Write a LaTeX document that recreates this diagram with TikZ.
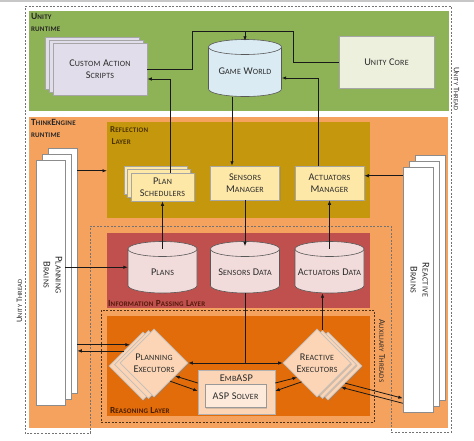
\documentclass[tikz,border=0pt]{standalone}
\usepackage{fontspec}
\setmainfont{Carlito}[LetterSpace=3]
\usepackage{relsize}
\usetikzlibrary{shapes.geometric,arrows.meta,calc,shadows}
\definecolor{ugreen}{RGB}{142,178,86}
\definecolor{teor}{RGB}{245,162,95}
\definecolor{reflc}{RGB}{196,151,12}
\definecolor{ipred}{RGB}{192,80,77}
\definecolor{reaso}{RGB}{227,108,10}
\definecolor{lav}{RGB}{226,221,234}
\definecolor{ucfill}{RGB}{236,240,221}
\definecolor{gwfill}{RGB}{218,235,243}
\definecolor{mgr}{RGB}{253,232,168}
\definecolor{cylp}{RGB}{242,220,219}
\definecolor{peach}{RGB}{251,213,181}
\definecolor{peachl}{RGB}{253,234,218}
\definecolor{txt}{RGB}{42,42,42}
\definecolor{reflt}{RGB}{75,50,0}
\definecolor{ipt}{RGB}{85,25,12}
\definecolor{rst}{RGB}{70,30,0}
\newcommand\fsc[2]{#1\textscale{0.78}{#2}}
% cylinder: cx, y top ellipse centre, y bottom ellipse centre, half width, fill
\newcommand\cylshape[5]{%
  \filldraw[cylline, fill=#5] (#1-#4,#2) -- (#1-#4,#3) arc[start angle=180, end angle=360, x radius=#4pt, y radius=7.5pt] -- (#1+#4,#2) -- cycle;
  \filldraw[cylline, fill=#5] (#1,#2) ellipse[x radius=#4pt, y radius=7.5pt];}
\begin{document}
\begin{tikzpicture}[x=1pt,y=-1pt,
  every node/.style={text=txt, font=\fontsize{10.3}{12}\selectfont},
  region/.style={anchor=north west, inner sep=0pt, outer sep=0pt},
  ttl/.style={align=left, inner sep=0pt, font=\bfseries\fontsize{9.5}{12}\selectfont, text=black!85},
  shd/.style={drop shadow={shadow xshift=1.2pt, shadow yshift=-1.2pt, opacity=0.3}},
  box/.style={draw=black!35, line width=0.5pt, align=center, inner sep=1pt, shd},
  layer/.style={draw=black!35, line width=0.5pt, shd},
  brain/.style={rectangle, fill=white, draw=black!45, line width=0.5pt, minimum width=29pt, minimum height=245pt, inner sep=0pt, shd},
  dia/.style={diamond, aspect=1, minimum width=68pt, minimum height=68pt, inner sep=0pt, fill=peach, draw=black!25, line width=0.6pt, align=center, shd},
  cyl/.style={inner sep=0pt, minimum width=69pt, minimum height=51.5pt},
  cylline/.style={draw=black!65, line width=0.6pt},
  conn/.style={draw=black!90, line width=0.8pt},
  arr/.style={conn, -{Latex[length=4.5pt,width=3.5pt]}},
  udash/.style={draw=black!55, line width=0.6pt, dash pattern=on 2pt off 1.5pt},
  adash/.style={draw=black!60!brown, line width=0.6pt, dash pattern=on 2pt off 1.5pt},
]
\useasboundingbox (0,0) rectangle (474,440);
\fill[black!22] (0,0) rectangle (474,2);

% regions
\node[region, fill=ugreen, minimum width=420pt, minimum height=100pt] (unityrt) at (29,11) {};
\node[region, fill=teor, minimum width=419pt, minimum height=311pt] (te) at (29,117) {};
\node[region, fill=reflc, minimum width=263pt, minimum height=96pt] (refl) at (107,122) {};
\node[region, fill=ipred, minimum width=263pt, minimum height=75pt] (ipl) at (107,233) {};
\node[region, fill=reaso, minimum width=263pt, minimum height=100pt] (rsl) at (107,316) {};

% thread outlines
\draw[udash] (25,6) -- (451,6) -- (451,432) -- (391,432) -- (391,226) -- (90,226) -- (90,433) -- (25,433) -- cycle;
\draw[adash] (101,310) rectangle (374,422);

% region labels
\node[ttl, anchor=north west] (unitylbl) at (31,13) {\fsc{U}{NITY}\\\fsc{}{RUNTIME}};
\node[ttl, anchor=north west] (telbl) at (31,119.5) {\fsc{T}{HINK}\fsc{E}{NGINE}\\\fsc{}{RUNTIME}};
\node[ttl, anchor=north west, text=reflt, font=\bfseries\fontsize{9}{12}\selectfont] (refllbl) at (110,126.5) {\fsc{R}{EFLECTION}\\\,\fsc{L}{AYER}};
\node[ttl, anchor=base west, text=ipt, font=\bfseries\fontsize{9.3}{11}\selectfont] (ipllbl) at (108,306) {\fsc{I}{NFORMATION} \fsc{P}{ASSING} \fsc{L}{AYER}};
\node[ttl, anchor=base west, text=rst, font=\bfseries\fontsize{9.3}{11}\selectfont] (rsllbl) at (110,413.5) {\fsc{R}{EASONING} \fsc{L}{AYER}};
\node[rotate=-90, inner sep=0pt, font=\fontsize{8.3}{9}\selectfont] (utr) at (456.5,89) {\fsc{U}{NITY} \fsc{T}{HREAD}};
\node[rotate=90, inner sep=0pt, font=\fontsize{8.3}{9}\selectfont] (utl) at (19.5,301) {\fsc{U}{NITY} \fsc{T}{HREAD}};
\node[rotate=-90, inner sep=0pt, font=\fontsize{9}{10}\selectfont] (aux) at (382,351) {\fsc{A}{UXILIARY} \fsc{T}{HREADS}};

% unity runtime
\filldraw[layer, fill=lav] (45,37) rectangle ++(94,52);
\filldraw[layer, fill=lav] (49,40) rectangle ++(94,52);
\node[box, fill=lav, minimum width=94pt, minimum height=52pt] (cas) at (100,69) {\fsc{C}{USTOM} \fsc{A}{CTION}\\\fsc{S}{CRIPTS}};
\cylshape{245}{47}{89}{36.5}{gwfill}
\node[cyl, minimum width=73pt, minimum height=57pt] (gw) at (245,68) {};
\node (gwt) at (245,71.5) {\fsc{G}{AME} \fsc{W}{ORLD}};
\node[box, fill=ucfill, minimum width=95pt, minimum height=52pt] (uc) at (386.5,62) {\fsc{U}{NITY} \fsc{C}{ORE}};

% reflection layer
\filldraw[layer, fill=mgr] (124,166) rectangle ++(63,28);
\filldraw[layer, fill=mgr] (127.5,169.5) rectangle ++(63,28);
\node[box, fill=mgr, minimum width=63pt, minimum height=28pt] (ps) at (162.5,187) {\fsc{P}{LAN}\\\fsc{S}{CHEDULERS}};
\node[box, fill=mgr, minimum width=69pt, minimum height=34pt] (sm) at (245,183) {\fsc{S}{ENSORS}\\\fsc{M}{ANAGER}};
\node[box, fill=mgr, minimum width=69pt, minimum height=34pt] (am) at (329.5,183) {\fsc{A}{CTUATORS}\\\fsc{M}{ANAGER}};

% brains
\node[brain] (pb3) at (62.5,270.5) {};
\node[brain] (pb2) at (56.5,276.5) {};
\node[brain] (pb) at (50.5,282.5) {};
\node[rotate=-90, align=center] (pbt) at (53,275) {\fsc{P}{LANNING}\\\fsc{B}{RAINS}};
\node[brain, minimum width=30pt] (rb3) at (430,277.5) {};
\node[brain, minimum width=30pt] (rb2) at (424,283.5) {};
\node[brain, minimum width=30pt] (rb) at (418,289.5) {};
\node[rotate=-90, align=center] (rbt) at (420,280) {\fsc{R}{EACTIVE}\\\fsc{B}{RAINS}};

% information passing layer
\cylshape{162.5}{249}{285.5}{34.5}{cylp}
\node[cyl] (plans) at (162.5,267.25) {};
\node (planst) at (162.5,272) {\fsc{P}{LANS}};
\cylshape{245}{249}{285.5}{34.5}{cylp}
\node[cyl] (sd) at (245,267.25) {};
\node (sdt) at (245,272) {\fsc{S}{ENSORS} \fsc{D}{ATA}};
\cylshape{329.5}{249}{285.5}{34.5}{cylp}
\node[cyl] (ad) at (329.5,267.25) {};
\node (adt) at (329.5,272) {\fsc{A}{CTUATORS} \fsc{D}{ATA}};

% reasoning layer
\node[dia] (pe3) at (143,366) {};
\node[dia] (pe2) at (148.5,364.5) {};
\node[dia] (pe) at (154,363) {\fsc{P}{LANNING}\\\fsc{E}{XECUTORS}};
\node[dia] (re3) at (328,366) {};
\node[dia] (re2) at (322.5,364.5) {};
\node[dia] (re) at (317,363) {\fsc{R}{EACTIVE}\\\fsc{E}{XECUTORS}};
\node[box, fill=peach, draw=black!30, minimum width=77pt, minimum height=44pt] (emb) at (236.5,392) {};
\node (embt) at (236.5,378.5) {\fsc{E}{MB}ASP};
\node[box, fill=peachl, draw=black!40, minimum width=61pt, minimum height=23pt] (asp) at (235.5,396) {ASP \fsc{S}{OLVER}};

% connectors: unity runtime
\coordinate (bend1) at (293,31);
\coordinate (bend2) at (192,31);
\draw[conn] (uc.west) -| (bend1) -- (bend2) |- (cas.east);
\draw[arr] (gw.north |- bend1) -- ([yshift=-1.5pt]gw.north);
\draw[arr] ([xshift=7.5pt]ps.north) |- ([yshift=-10pt]cas.east);
\draw[arr] ([xshift=-13pt]gw.south) -- ([xshift=-13pt]gw.south |- sm.north);
\draw[arr] ([xshift=-11.5pt]am.north) |- ([yshift=-10pt]gw.east);

% connectors: brains and layers
\draw[arr] ([yshift=-23pt]pb3.north east) -- ([yshift=-23pt]pb3.north east -| refl.west);
\draw[arr] ([yshift=-9pt]rb.north west) -- ([yshift=-9pt]rb.north west -| am.east);
\draw[arr] (pb.east |- plans.west) -- (plans.west);
\draw[arr] ([yshift=-7.5pt]plans.north) -- (ps.south);
\draw[arr] (sm.south) -- ([yshift=-5pt]sd.north);
\draw[arr] ([yshift=-7.5pt]ad.north) -- (am.south);

% connectors: reasoning
\coordinate (j2) at (sd.south |- pe.east);
\draw[conn] (sd.south) -- (j2);
\draw[arr] (j2) -- (pe.east);
\draw[arr] (j2) -- (re.west);
\draw[arr] (re2.north) -- (re2.north |- ad.south);
\draw[arr] ([yshift=9pt]emb.west) -- ($(pe.east)!0.38!(pe.south)$);
\draw[arr] ($(pe.east)!0.53!(pe.south)$) -- ([yshift=1pt]emb.west);
\draw[arr] ([yshift=9pt]emb.east) -- ($(re.west)!0.42!(re.south)$);
\draw[arr] ($(re.west)!0.55!(re.south)$) -- ([yshift=1pt]emb.east);
\draw[arr] ($(re3.east)!0.5!(re3.south)$) -- ([yshift=14pt]rb.south west);
\draw[arr] ([yshift=9pt]rb.south west) -- ($(re3.east)!0.62!(re3.south)$);
\coordinate (pA) at ($(pe3.west)!0.62!(pe3.north)$);
\coordinate (pB) at ($(pe3.west)!0.44!(pe3.north)$);
\draw[arr] (pb3.east |- pA) -- (pA);
\draw[arr] (pB) -- (pb3.east |- pB);
\end{tikzpicture}
\end{document}
